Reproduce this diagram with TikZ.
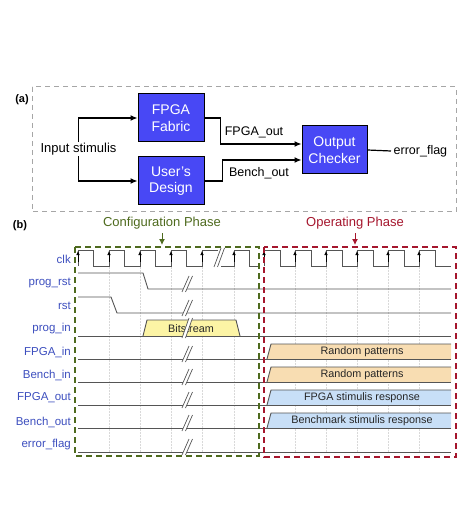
\documentclass[tikz,border=0pt]{standalone}
\usepackage{fontspec}
\setmainfont{Liberation Sans}
\usetikzlibrary{arrows.meta}
\definecolor{boxblue}{RGB}{72,72,245}
\definecolor{lblue}{RGB}{60,78,190}
\definecolor{cgreen}{RGB}{78,106,30}
\definecolor{cred}{RGB}{165,22,45}
\definecolor{sig}{RGB}{85,85,85}
\definecolor{bsyellow}{RGB}{252,244,165}
\definecolor{rporange}{RGB}{248,221,178}
\definecolor{respblue}{RGB}{200,223,247}
\newcommand{\brkmark}[3]{%
  \fill[white] (#1,#2) -- (#1+3.5,#2) -- (#1+10.5,#3) -- (#1+7,#3) -- cycle;
  \draw[sig, line width=0.7pt] (#1,#2) -- (#1+7,#3) (#1+3.5,#2) -- (#1+10.5,#3);}
\begin{document}
\begin{tikzpicture}[x=1pt,y=-1pt,
  blk/.style={draw=black, line width=1pt, fill=boxblue, text=white, minimum width=66pt, minimum height=48pt, inner sep=0pt, align=center, font=\fontsize{14}{16.5}\selectfont},
  arr/.style={line width=1.2pt, -{Latex[length=7pt,width=6pt]}},
  wire/.style={line width=1.2pt},
  elabel/.style={font=\fontsize{12.5}{15}\selectfont, inner sep=0pt},
  siglbl/.style={anchor=east, text=lblue, font=\fontsize{11.5}{13}\selectfont, inner sep=0pt},
  sigline/.style={draw=sig, line width=0.9pt},
  gridl/.style={draw=gray!30, densely dotted, line width=0.5pt},
  phasebox/.style={dash pattern=on 6pt off 4pt, line width=1.8pt},
  wavetxt/.style={font=\fontsize{10.8}{12}\selectfont, inner sep=0pt, text=black!85},
  edgearr/.style={draw=black, line width=0.6pt, -{Latex[length=4pt,width=3.5pt]}},
  tag/.style={font=\bfseries\fontsize{11}{13}\selectfont, inner sep=0pt}]
\useasboundingbox (0,0) rectangle (474,526);

% ---------------- (a) ----------------
\draw[gray!70, line width=1pt, dash pattern=on 5pt off 4pt] (32,87) rectangle (456,212);
\node[tag] (ta) at (22,100) {(a)};
\node[blk] (fab) at (171,118) {FPGA\\Fabric};
\node[blk] (ud) at (171,181) {User's\\Design};
\node[blk, minimum width=65pt] (oc) at (334.5,150) {Output\\Checker};
\node[font=\fontsize{13}{15}\selectfont, inner sep=1pt] (inp) at (78.5,149) {Input stimulis};
\node[elabel, anchor=west, inner sep=2.5pt] (ef) at (391,151) {error\_flag};
\draw[arr] (inp.north) |- (fab.west);
\draw[arr] (inp.south) |- (ud.west);
\draw[arr] (fab.east) -- ++(16,0) |- ([yshift=6pt]oc.west);
\draw[arr] (ud.east) -- ++(18,0) |- ([yshift=-10pt]oc.west);
\draw[wire] (oc.east) -- (ef.west);
\node[elabel] (fo) at (254,132) {FPGA\_out};
\node[elabel] (bo) at (259,173) {Bench\_out};

% ---------------- (b) ----------------
\node[tag] (tb) at (20,226) {(b)};
\node[font=\fontsize{13}{15}\selectfont, text=cgreen, inner sep=0pt] (cfg) at (162,223) {Configuration Phase};
\node[font=\fontsize{13}{15}\selectfont, text=cred, inner sep=0pt] (opr) at (355,223) {Operating Phase};
\coordinate (cfgtip) at (162,245);
\coordinate (oprtip) at (355,245);
\draw[cgreen, line width=1pt, -{Latex[length=6pt,width=6pt]}] ([yshift=-4pt]cfg.south) -- (cfgtip);
\draw[cred, line width=1pt, -{Latex[length=6pt,width=6pt]}] ([yshift=-4pt]opr.south) -- (oprtip);

% grid
\foreach \x in {109,140,171,202,234,295,326,357,388,419}
  {\draw[gridl] (\x,250) -- (\x,452);}

% labels
\node[siglbl] (l1) at (71,259) {clk};
\node[siglbl] (l2) at (71,283) {prog\_rst};
\node[siglbl] (l3) at (71,306) {rst};
\node[siglbl] (l4) at (71,329) {prog\_in};
\node[siglbl] (l5) at (71,352) {FPGA\_in};
\node[siglbl] (l6) at (71,375) {Bench\_in};
\node[siglbl] (l7) at (71,398) {FPGA\_out};
\node[siglbl] (l8) at (71,422) {Bench\_out};
\node[siglbl] (l9) at (71,445) {error\_flag};

% clock
\draw[sigline] (78,266) -- (78,250) -- (93.5,250) -- (93.5,266) -- (109,266) -- (109,250) -- (124.5,250) -- (124.5,266) -- (140,266) -- (140,250) -- (155.5,250) -- (155.5,266) -- (171,266) -- (171,250) -- (186.5,250) -- (186.5,266) -- (202,266) -- (202,250) -- (218,250);
\draw[sigline] (221,266) -- (234,266) -- (234,250) -- (249,250) -- (249,266) -- (258,266);
\draw[sigline] (264,266) -- (264,250) -- (280,250) -- (280,266) -- (295,266) -- (295,250) -- (311,250) -- (311,266) -- (326,266) -- (326,250) -- (342,250) -- (342,266) -- (357,266) -- (357,250) -- (373,250) -- (373,266) -- (388,266) -- (388,250) -- (404,250) -- (404,266) -- (419,266) -- (419,250) -- (435,250) -- (435,266) -- (451,266);
\foreach \x in {78,109,140,171,202,234,264,295,326,357,388,419}
  {\draw[edgearr] (\x,262) -- (\x,251);}
\brkmark{214}{267}{248}

% prog_rst
\draw[sigline] (78,273) -- (143,273) -- (148,289) -- (451,289);
% rst
\draw[sigline] (78,297) -- (111,297) -- (117,313) -- (451,313);
% prog_in
\fill[bsyellow] (143,336) -- (147,320) -- (236,320) -- (240,336) -- cycle;
\draw[sigline] (78,336) -- (451,336);
\draw[sigline] (143,336) -- (147,320) -- (236,320) -- (240,336);
\node[wavetxt] (bs) at (191,328.5) {Bitstream};
% FPGA_in
\fill[rporange] (267,359) -- (271,344) -- (451,344) -- (451,359) -- cycle;
\draw[sigline] (78,359) -- (451,359);
\draw[sigline] (267,359) -- (271,344) -- (451,344);
\node[wavetxt] (rp1) at (362,352) {Random patterns};
% Bench_in
\fill[rporange] (267,382) -- (271,367) -- (451,367) -- (451,382) -- cycle;
\draw[sigline] (78,382) -- (451,382);
\draw[sigline] (267,382) -- (271,367) -- (451,367);
\node[wavetxt] (rp2) at (362,375) {Random patterns};
% FPGA_out
\fill[respblue] (267,405) -- (271,390) -- (451,390) -- (451,405) -- cycle;
\draw[sigline] (78,405) -- (451,405);
\draw[sigline] (267,405) -- (271,390) -- (451,390);
\node[wavetxt] (fr) at (362,398) {FPGA stimulis response};
% Bench_out
\fill[respblue] (267,428) -- (271,413) -- (451,413) -- (451,428) -- cycle;
\draw[sigline] (78,428) -- (451,428);
\draw[sigline] (267,428) -- (271,413) -- (451,413);
\node[wavetxt] (br) at (362,421) {Benchmark stimulis response};
% error_flag
\draw[sigline] (78,452) -- (451,452);

% break marks
\foreach \y in {289,313,359,382,405,428,452}
  {\brkmark{182}{\y+3}{\y-13}}
\brkmark{182}{338}{318}

% phase boxes
\draw[cgreen, phasebox] (75,247) rectangle (259,456);
\draw[cred, phasebox] (264,247) rectangle (456,457);
\end{tikzpicture}
\end{document}
